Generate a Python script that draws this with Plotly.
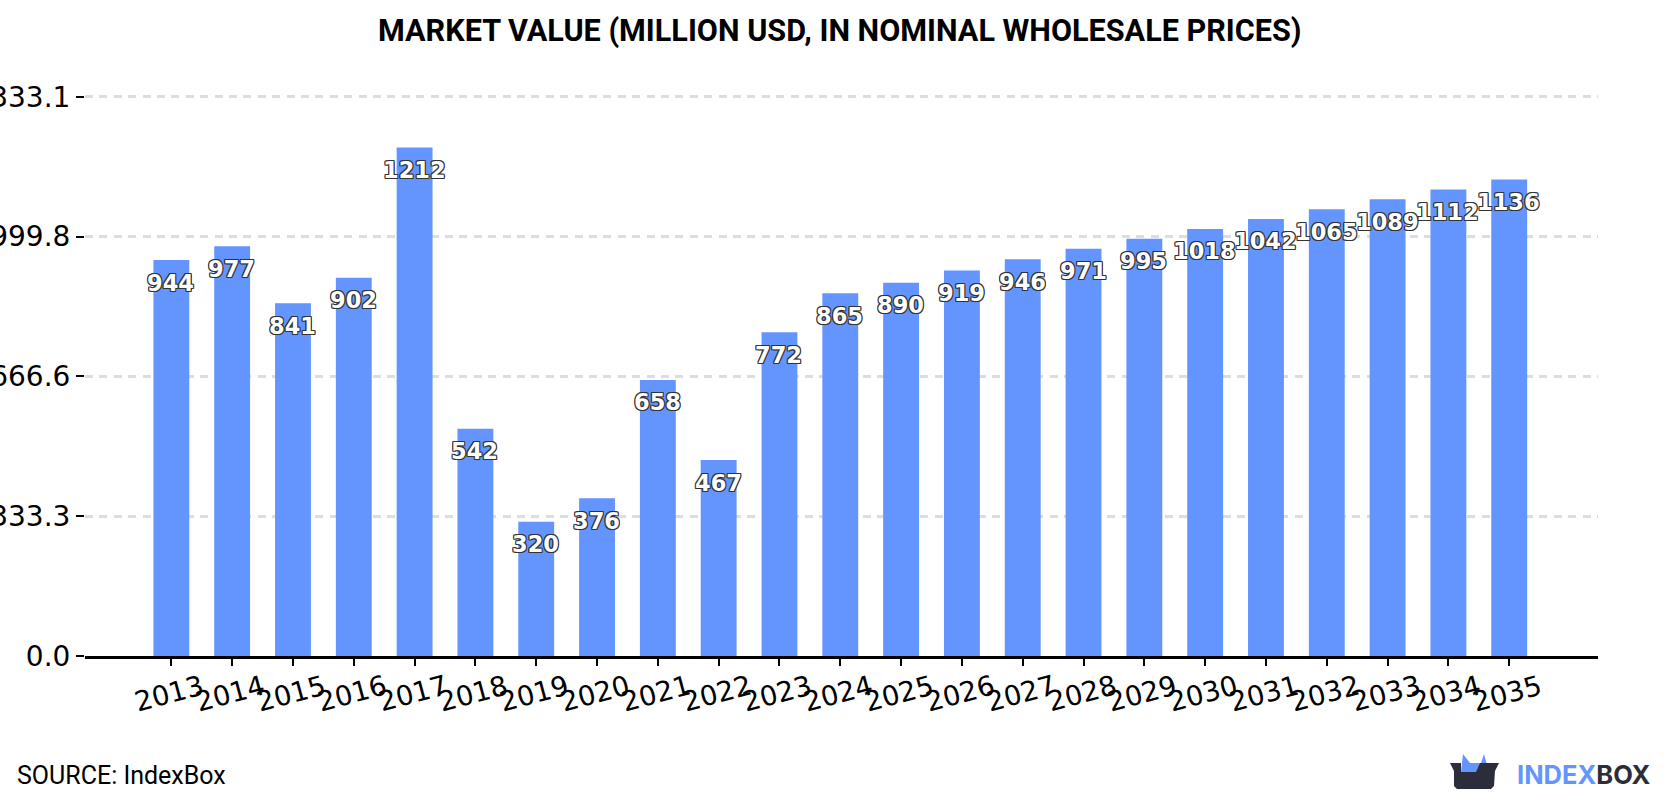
import plotly.graph_objects as go

years = list(range(2013, 2036))
values = [944, 977, 841, 902, 1212, 542, 320, 376, 658, 467, 772, 865, 890, 919,
          946, 971, 995, 1018, 1042, 1065, 1089, 1112, 1136]
y_ticks = [0.0, 333.3, 666.6, 999.8, 1333.1]
y_tick_labels = ["0.0", "333.3", "666.6", "999.8", "1333.1"]

BAR_BLUE = "#6495ff"
LOGO_DARK = "#2b2d3a"
WIDTH, HEIGHT = 1680, 800
LEFT, RIGHT, TOP, BOTTOM = 85, 82, 87, 144
Y_MAX = 1356.5  # leaves headroom so the 1333.1 gridline is drawn

OUTLINE = ",".join(f"{dx}px {dy}px 0 #333" for dx, dy in
                   [(1, 0), (-1, 0), (0, 1), (0, -1), (1, 1), (-1, -1), (1, -1), (-1, 1)])


def px(x):
    return (x - LEFT) / (WIDTH - LEFT - RIGHT)


def py(y):
    return (HEIGHT - BOTTOM - y) / (HEIGHT - TOP - BOTTOM)


def logo_path(points):
    return "M " + " L ".join(f"{px(x):.5f},{py(y):.5f}" for x, y in points) + " Z"


fig = go.Figure(go.Bar(x=years, y=values, width=0.59, marker=dict(color=BAR_BLUE, line_width=0),
                       hoverinfo="x+y"))

annotations = []
for year, value in zip(years, values):
    annotations.append(dict(x=year, y=value, xref="x", yref="y", text=f"<b>{value}</b>",
                            showarrow=False, xshift=-0.5, yshift=-22.5, xanchor="center",
                            yanchor="middle",
                            font=dict(family="DejaVu Sans", size=22.5, color="white", shadow=OUTLINE)))
    annotations.append(dict(x=year, y=0, xref="x", yref="paper", text=str(year), showarrow=False,
                            xshift=-2, yshift=-37, xanchor="center", yanchor="middle", textangle=-15,
                            font=dict(family="DejaVu Sans", size=27.5, color="black")))

annotations += [
    dict(x=px(840), y=py(31), xref="paper", yref="paper", xanchor="center", yanchor="middle",
         showarrow=False,
         text="<b>MARKET VALUE (MILLION USD, IN NOMINAL WHOLESALE PRICES)</b>",
         font=dict(family="Roboto", size=30.6, color="black")),
    dict(x=px(15), y=py(775), xref="paper", yref="paper", xanchor="left", yanchor="middle",
         showarrow=False, text="SOURCE: IndexBox",
         font=dict(family="Roboto", size=25, color="black")),
    dict(x=px(1515), y=py(774), xref="paper", yref="paper", xanchor="left", yanchor="middle",
         showarrow=False, text=f'<b><span style="color:{BAR_BLUE}">INDEX</span>'
                               f'<span style="color:{LOGO_DARK}">BOX</span></b>',
         font=dict(family="Inter", size=25.5)),
]

shapes = [
    dict(type="path", xref="paper", yref="paper", fillcolor=BAR_BLUE, line_width=0,
         path=logo_path([(1461, 772), (1463, 754), (1470, 763), (1481, 763), (1484, 754),
                         (1487, 765), (1479, 772)])),
    dict(type="path", xref="paper", yref="paper", fillcolor=LOGO_DARK, line_width=0,
         path=logo_path([(1450, 763), (1461, 763), (1461, 772), (1476, 772), (1480, 763),
                         (1499, 763), (1495, 771), (1494, 786), (1491, 789), (1457, 789),
                         (1454, 786), (1454, 771)])),
]

fig.update_layout(
    width=WIDTH, height=HEIGHT, autosize=False,
    margin=dict(l=LEFT, r=RIGHT, t=TOP, b=BOTTOM, pad=0),
    paper_bgcolor="white", plot_bgcolor="white", showlegend=False, bargap=0.41,
    annotations=annotations, shapes=shapes,
    xaxis=dict(range=[2013 - 1.42, 2013 + 23.46], tickmode="array", tickvals=years,
               showticklabels=False, showgrid=False, zeroline=False, ticks="outside",
               ticklen=7, tickwidth=2, tickcolor="black", showline=True, linecolor="black",
               linewidth=3, automargin=False),
    yaxis=dict(range=[0, Y_MAX], tickmode="array", tickvals=y_ticks, ticktext=y_tick_labels,
               ticks="outside", ticklen=8, tickwidth=2, tickcolor="black", showline=False,
               zeroline=False, showgrid=True, gridcolor="#dddddd", gridwidth=3,
               griddash="8px,6.4px", ticklabelstandoff=0, automargin=False,
               tickfont=dict(family="DejaVu Sans", size=28, color="black")),
)

fig.write_html("out.html", config={"displayModeBar": False})
